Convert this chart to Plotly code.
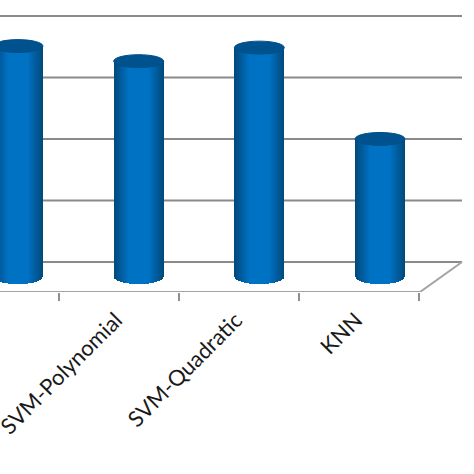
import math
import plotly.graph_objects as go

# dados
categorias = ['SVM-Linear', 'SVM-Polynomial', 'SVM-Quadratic', 'KNN']
valores = [75.1, 70.2, 74.6, 44.9]
grade = [0, 20, 40, 60, 80]

largura_barra = 0.414
meia_elipse = 2.1     # altura da elipse em unidades do eixo y
fundo = 4.88          # deslocamento da parede de trás (perspectiva)
cinza = '#8a8a8a'
W = 474
N = 40                # quantas faixas no degradê

pos = list(range(len(valores)))

fig = go.Figure()

# cilindro = barras sobrepostas, a base de cada uma segue a elipse de baixo
for i in range(N):
    frac = 1 - i / N
    t = min(1, (i / N) / 0.6)
    tom = f'rgb(0,{int(74 + 40 * t)},{int(124 + 72 * t)})'
    base = -meia_elipse * 1.1 * math.sqrt(1 - min(frac, 0.999) ** 2)
    fig.add_trace(go.Bar(x=pos, y=[v - base for v in valores], base=base,
                         width=largura_barra * frac, xaxis='x2', yaxis='y',
                         marker=dict(color=tom, line=dict(width=0)),
                         showlegend=False, hoverinfo='skip'))

# eixo só para os rótulos
fig.add_trace(go.Scatter(x=categorias, y=[None] * 4, xaxis='x', yaxis='y',
                         showlegend=False, hoverinfo='skip'))

shapes = []
# grade na parede de trás
for g in grade:
    shapes.append(dict(type='line', xref='paper', yref='y', x0=0, x1=462 / W,
                       y0=g + fundo, y1=g + fundo, layer='below',
                       line=dict(color=cinza, width=2)))
# chão
shapes.append(dict(type='line', xref='paper', yref='y', x0=0, x1=420 / W, y0=-fundo, y1=-fundo,
                   layer='below', line=dict(color='#a3a3a3', width=2)))
shapes.append(dict(type='line', xref='paper', yref='y', x0=420 / W, x1=462 / W, y0=-fundo, y1=fundo,
                   layer='below', line=dict(color='#a3a3a3', width=2)))
# tampa dos cilindros
for p, v in zip(pos, valores):
    shapes.append(dict(type='circle', xref='x2', yref='y', layer='above',
                       x0=p - largura_barra / 2, x1=p + largura_barra / 2,
                       y0=v - meia_elipse, y1=v + meia_elipse,
                       fillcolor='#00528e', line=dict(color='#004f88', width=1)))

fig.update_layout(
    width=W, height=W,
    template='none',
    margin=dict(l=0, r=0, t=0, b=182),
    paper_bgcolor='white',
    plot_bgcolor='white',
    barmode='overlay',
    bargap=0,
    showlegend=False,
    shapes=shapes,
    xaxis=dict(type='category', categoryorder='array', categoryarray=categorias,
               range=[0.0083, 3.958], tickson='boundaries', ticks='outside',
               ticklen=8, tickwidth=2, tickcolor='#8f8f8f', showline=False,
               showgrid=False, zeroline=False, tickangle=-45, automargin=False,
               ticklabelstandoff=10, ticklabelshift=-3,
               tickfont=dict(family='Lato', size=22, color='#1a1a1a')),
    xaxis2=dict(overlaying='x', range=[-0.149, 3.779], visible=False, showgrid=False, zeroline=False),
    yaxis=dict(range=[-4.88, 90.08], visible=False, showgrid=False, zeroline=False),
)

# tira a margem de 8px da página
fig.write_html("out.html", config={'displayModeBar': False},
               post_script="document.body.style.margin='0';")
